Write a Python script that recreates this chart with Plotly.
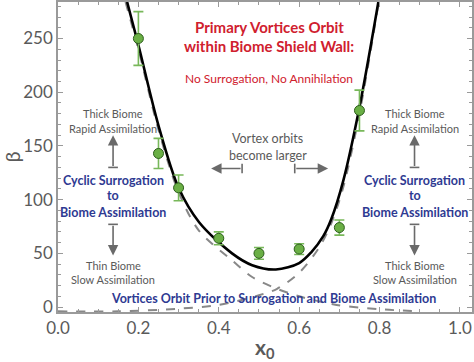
import plotly.graph_objects as go

# measured data points
x_pts = [0.2, 0.25, 0.3, 0.4, 0.5, 0.6, 0.7, 0.75]
beta_pts = [250, 143, 111, 64, 50, 54, 74, 183]
beta_err = [25, 14, 12, 6, 5.5, 5, 7, 19]

# solid model curve
solid_x = [0.172, 0.2, 0.25, 0.3, 0.351, 0.433, 0.483, 0.542, 0.6, 0.63, 0.66, 0.68, 0.71, 0.75, 0.797]
solid_y = [284, 244, 169, 111, 79, 50, 39, 35, 41, 51, 66, 82, 118, 186, 284]

# dashed curve A (upper left branch -> V -> lower right)
dashA_x = [0.168, 0.2, 0.25, 0.3, 0.351, 0.433, 0.483, 0.545, 0.6, 0.693, 0.8, 0.9]
dashA_y = [284, 240, 165, 107, 71, 43.5, 28, 17, 10, 2, -2, -4]

# dashed curve B (lower left -> V -> upper right branch)
dashB_x = [0.0, 0.15, 0.3, 0.4, 0.5, 0.545, 0.6, 0.649, 0.68, 0.71, 0.75, 0.798]
dashB_y = [-4, -4, -1.5, 2, 11, 17, 32, 55, 78, 112, 180, 284]

x_ticks = [0.0, 0.2, 0.4, 0.6, 0.8, 1.0]
x_tick_labels = ["0.0", "0.2", "0.4", "0.6", "0.8", "1.0"]
y_ticks = [0, 50, 100, 150, 200, 250]

RED = "#d0202e"
BLUE = "#2e3a92"
GRAY = "#5a5a5a"
AGRAY = "#6a6a6a"
FONT = "Lato"

fig = go.Figure()

for dx, dy in [(dashA_x, dashA_y), (dashB_x, dashB_y)]:
    fig.add_trace(go.Scatter(x=dx, y=dy, mode="lines",
                             line=dict(color="#888888", width=2, dash="dash", shape="spline", smoothing=0.9),
                             hoverinfo="skip", showlegend=False))
fig.add_trace(go.Scatter(x=solid_x, y=solid_y, mode="lines",
                         line=dict(color="black", width=2.6, shape="spline", smoothing=0.9),
                         showlegend=False))
fig.add_trace(go.Scatter(x=x_pts, y=beta_pts, mode="markers",
                         marker=dict(size=10, color="#6aaf45", line=dict(color="#2d5e1c", width=1)),
                         error_y=dict(type="data", array=beta_err, color="#78b85a", thickness=1.6, width=5),
                         showlegend=False))

annotations = []

def txt(x, y, s, color, size, bold=False):
    annotations.append(dict(x=x, y=y, xref="x", yref="y", text=("<b>%s</b>" % s) if bold else s,
                            showarrow=False, font=dict(family=FONT, size=size, color=color),
                            xanchor="center", yanchor="middle"))

# top red texts
txt(0.525, 261, "Primary Vortices Orbit", RED, 15, True)
txt(0.525, 243, "within Biome Shield Wall:", RED, 15, True)
txt(0.525, 213, "No Surrogation, No Annihilation", RED, 12)

# middle
txt(0.522, 157, "Vortex orbits", GRAY, 12.5)
txt(0.522, 141, "become larger", GRAY, 12.5)

# side columns
for cx, bottom_label in [(0.137, "Thin Biome"), (0.887, "Thick Biome")]:
    txt(cx, 180, "Thick Biome", GRAY, 11)
    txt(cx, 166, "Rapid Assimilation", GRAY, 11)
    txt(cx, 118, "Cyclic Surrogation", BLUE, 12.5, True)
    txt(cx, 104, "to", BLUE, 12.5, True)
    txt(cx, 88, "Biome Assimilation", BLUE, 12.5, True)
    txt(cx, 39, bottom_label, GRAY, 11)
    txt(cx, 26, "Slow Assimilation", GRAY, 11)

txt(0.536, 8.4, "Vortices Orbit Prior to Surrogation and Biome Assimilation", BLUE, 12.5, True)

# x-axis title
annotations.append(dict(x=0.5, y=-0.066, xref="paper", yref="paper", yanchor="top", showarrow=False,
                        text="<b>x<sub>0</sub></b>", font=dict(family=FONT, size=21, color=GRAY)))

# arrows: (tail_x, tail_y, head_x, head_y)
arrows = [
    (0.137, 130, 0.137, 160),
    (0.137, 77, 0.137, 48),
    (0.887, 130, 0.887, 160),
    (0.887, 77, 0.887, 48),
    (0.458, 129, 0.381, 129),
    (0.589, 129, 0.672, 129),
]
shapes = []
for tx, ty, hx, hy in arrows:
    annotations.append(dict(x=hx, y=hy, ax=tx, ay=ty, xref="x", yref="y", axref="x", ayref="y",
                            text="", showarrow=True, arrowhead=2, arrowsize=1.3, arrowwidth=1.6,
                            arrowcolor=AGRAY))
    if tx == hx:
        shapes.append(dict(type="line", xref="x", yref="y", x0=tx - 0.012, x1=tx + 0.012, y0=ty, y1=ty,
                           line=dict(color=AGRAY, width=1.6)))
    else:
        shapes.append(dict(type="line", xref="x", yref="y", x0=tx, x1=tx, y0=ty - 4.5, y1=ty + 4.5,
                           line=dict(color=AGRAY, width=1.6)))

axis_common = dict(showgrid=False, zeroline=False, showline=True, linecolor="#9a9a9a", linewidth=1.5,
                   mirror="ticks", ticks="inside", ticklen=5, tickcolor="#9a9a9a", tickwidth=1,
                   tickfont=dict(family=FONT, size=17, color=GRAY))

fig.update_layout(
    width=474, height=362,
    margin=dict(l=58, r=0, t=1, b=50),
    paper_bgcolor="white", plot_bgcolor="white",
    annotations=annotations, shapes=shapes,
    xaxis=dict(range=[0, 1.03], tickvals=x_ticks, ticktext=x_tick_labels,
               minor=dict(dtick=0.05, ticks="inside", ticklen=3, tickcolor="#9a9a9a"),
               **axis_common),
    yaxis=dict(range=[-4.6, 284], tickvals=y_ticks,
               minor=dict(dtick=10, ticks="inside", ticklen=3, tickcolor="#9a9a9a"),
               title=dict(text="β", font=dict(family=FONT, size=20, color=GRAY), standoff=6),
               **axis_common),
)

fig.write_html("out.html", config={"displayModeBar": False},
               post_script="document.body.style.margin='0px';")
